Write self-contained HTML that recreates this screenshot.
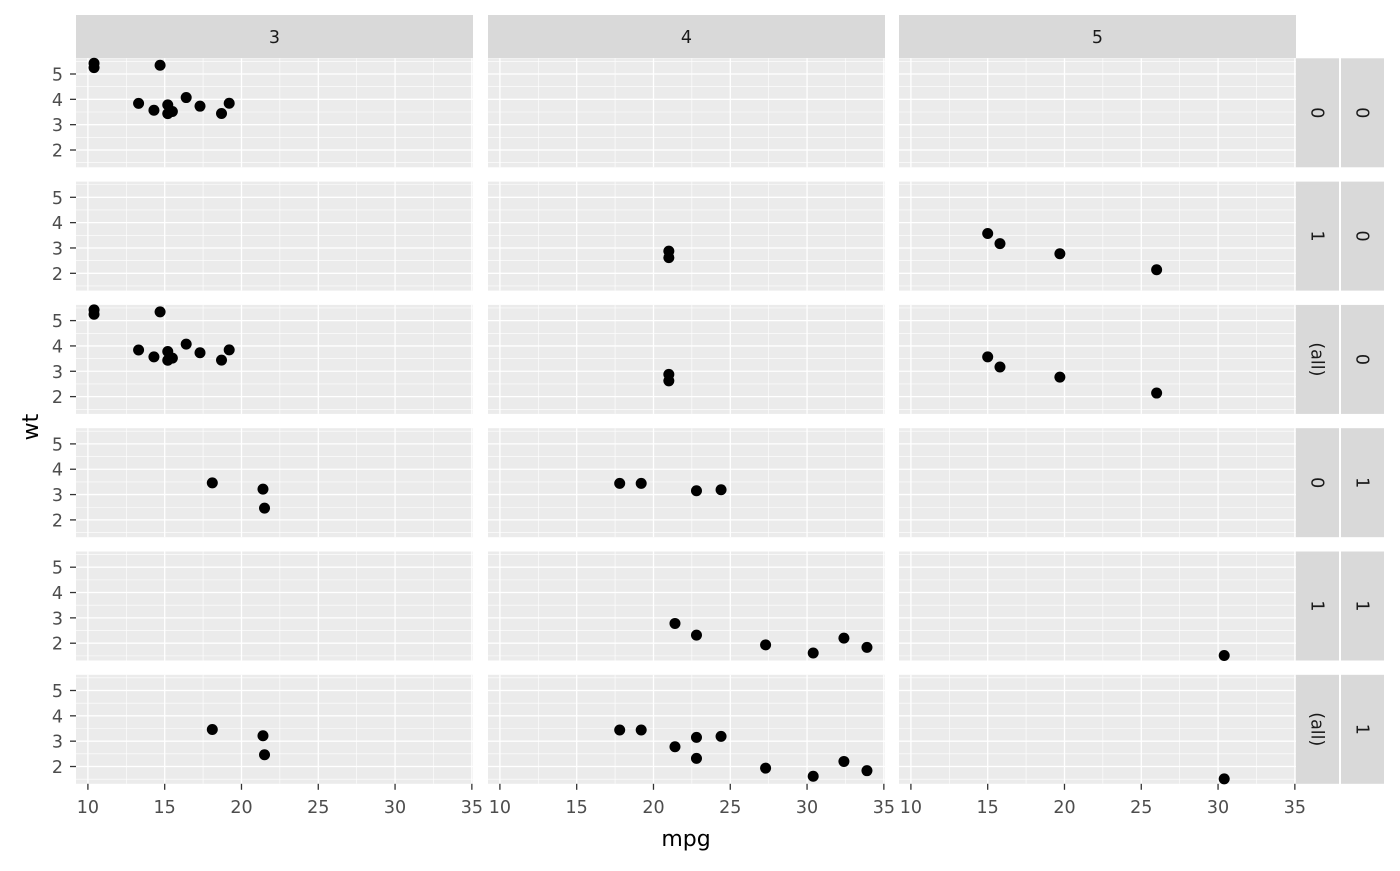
<!DOCTYPE html>
<html><head><meta charset="utf-8"><style>
body{margin:0;background:#fff;}
svg text{font-family:"DejaVu Sans","Liberation Sans",sans-serif;}
</style></head><body>
<svg id="chart" width="1400" height="866" xmlns="http://www.w3.org/2000/svg"></svg>
<script>
const mpg=[21,21,22.8,21.4,18.7,18.1,14.3,24.4,22.8,19.2,17.8,16.4,17.3,15.2,10.4,10.4,14.7,32.4,30.4,33.9,21.5,15.5,15.2,13.3,19.2,27.3,26,30.4,15.8,19.7,15,21.4];
const wt=[2.62,2.875,2.32,3.215,3.44,3.46,3.57,3.19,3.15,3.44,3.44,4.07,3.73,3.78,5.25,5.424,5.345,2.2,1.615,1.835,2.465,3.52,3.435,3.84,3.845,1.935,2.14,1.513,3.17,2.77,3.57,2.78];
const vs=[0,0,1,1,0,1,0,1,1,1,1,0,0,0,0,0,0,1,1,1,1,0,0,0,0,1,0,1,0,0,0,1];
const am=[1,1,1,0,0,0,0,0,0,0,0,0,0,0,0,0,0,1,1,1,0,0,0,0,0,1,1,1,1,1,1,1];
const gear=[4,4,4,3,3,3,3,4,4,4,4,3,3,3,3,3,3,4,4,4,3,3,3,3,3,4,5,5,5,5,5,4];
const gearLevels=[3,4,5];
const rowDefs=[{vs:0,am:0,a:"0",v:"0"},{vs:0,am:1,a:"1",v:"0"},{vs:0,am:null,a:"(all)",v:"0"},{vs:1,am:0,a:"0",v:"1"},{vs:1,am:1,a:"1",v:"1"},{vs:1,am:null,a:"(all)",v:"1"}];
const xTicks=[10,15,20,25,30,35];
const yTicks=[2,3,4,5];

const NS="http://www.w3.org/2000/svg";
const svg=document.getElementById('chart');
function el(t,a,p){const e=document.createElementNS(NS,t);for(const k in a)e.setAttribute(k,a[k]);(p||svg).appendChild(e);return e;}
const xmin=Math.min(...mpg),xmax=Math.max(...mpg),ymin=Math.min(...wt),ymax=Math.max(...wt);
const x0=xmin-0.05*(xmax-xmin),x1=xmax+0.05*(xmax-xmin);
const y0=ymin-0.05*(ymax-ymin),y1=ymax+0.05*(ymax-ymin);
const colL=[76,488,899],PW=397,rowT=[58.3,181.6,304.9,428.2,551.5,674.8],PH=109;
function sx(c,v){return colL[c]+(v-x0)/(x1-x0)*PW;}
function sy(r,v){return rowT[r]+PH-(v-y0)/(y1-y0)*PH;}

gearLevels.forEach((g,c)=>{
  const s=el('rect',{x:colL[c],y:15,width:PW,height:43,fill:'#d9d9d9'});
  
  const t=el('text',{x:colL[c]+PW/2,y:43,'text-anchor':'middle','font-size':17.5,fill:'#1a1a1a'});t.textContent=g;
  
});
rowDefs.forEach((rd,r)=>{
  const T=rowT[r];
  [[1296,rd.a,'am'],[1341,rd.v,'vs']].forEach(([sx0,lab,nm])=>{
    const s=el('rect',{x:sx0,y:T,width:43,height:PH,fill:'#d9d9d9'});
    
    const cx=sx0+21.5,cy=T+PH/2;
    const t=el('text',{x:cx,y:cy+6,'text-anchor':'middle','font-size':17.5,fill:'#1a1a1a',transform:`rotate(90 ${cx} ${cy})`});t.textContent=lab;
    
  });
  gearLevels.forEach((g,c)=>{
    const p=el('rect',{x:colL[c],y:T,width:PW,height:PH,fill:'#ebebeb'});
    
    for(let v=7.5;v<=37.5;v+=5){if(v>x0&&v<x1)el('line',{x1:sx(c,v),x2:sx(c,v),y1:T,y2:T+PH,stroke:'#fff','stroke-width':0.6});}
    for(let v=1.5;v<=5.5;v+=1){if(v>y0&&v<y1)el('line',{x1:colL[c],x2:colL[c]+PW,y1:sy(r,v),y2:sy(r,v),stroke:'#fff','stroke-width':0.6});}
    xTicks.forEach(v=>{if(v>=x0&&v<=x1)el('line',{x1:sx(c,v),x2:sx(c,v),y1:T,y2:T+PH,stroke:'#fff','stroke-width':1.3});});
    yTicks.forEach(v=>el('line',{x1:colL[c],x2:colL[c]+PW,y1:sy(r,v),y2:sy(r,v),stroke:'#fff','stroke-width':1.3}));
    for(let i=0;i<mpg.length;i++){
      if(gear[i]!==g||vs[i]!==rd.vs)continue;
      if(rd.am!==null&&am[i]!==rd.am)continue;
      const d=el('circle',{cx:sx(c,mpg[i]),cy:sy(r,wt[i]),r:5.5,fill:'#000'});
      
    }
  });
  yTicks.forEach(v=>{
    el('line',{x1:70,x2:76,y1:sy(r,v),y2:sy(r,v),stroke:'#333','stroke-width':1.3});
    const t=el('text',{x:63,y:sy(r,v)+6.5,'text-anchor':'end','font-size':17.5,fill:'#4d4d4d'});t.textContent=v;
    
  });
});
gearLevels.forEach((g,c)=>{
  const B=rowT[5]+PH;
  xTicks.forEach(v=>{
    el('line',{x1:sx(c,v),x2:sx(c,v),y1:B,y2:B+6,stroke:'#333','stroke-width':1.3});
    const t=el('text',{x:sx(c,v),y:B+29,'text-anchor':'middle','font-size':17.5,fill:'#4d4d4d'});t.textContent=v;
    
  });
});
const xt=el('text',{x:686,y:846,'text-anchor':'middle','font-size':22,fill:'#000'});xt.textContent='mpg';

const yt=el('text',{x:38,y:427,'text-anchor':'middle','font-size':22,fill:'#000',transform:'rotate(-90 38 427)'});yt.textContent='wt';

</script>
</body></html>
